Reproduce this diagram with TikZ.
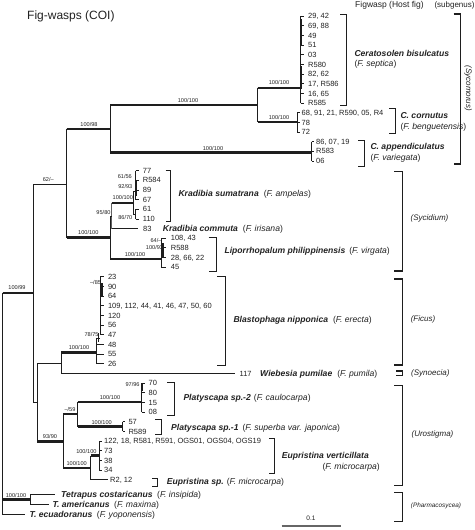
\documentclass[tikz,border=0pt]{standalone}
\usepackage{fontspec}
\setmainfont{Liberation Sans}
\definecolor{inkc}{HTML}{1E1E1E}
\definecolor{txtc}{HTML}{222222}
\newcommand{\SpN}[1]{{\bfseries\itshape #1}}
\newcommand{\HoF}[1]{(\textit{#1})}
\begin{document}
\begin{tikzpicture}[x=1pt,y=-1pt,
  br/.style={draw=inkc, line width=0.7pt},
  thk/.style={draw=inkc, line width=2.2pt},
  brk/.style={draw=inkc, line width=0.9pt},
  sgb/.style={draw=inkc, line width=1.5pt},
  tip/.style={anchor=west, inner sep=0pt, text=txtc, font=\fontsize{7.5}{9}\selectfont, text height=5.4pt, text depth=0pt},
  spn/.style={anchor=west, inner sep=0pt, text=txtc, font=\fontsize{8.6}{10}\selectfont, text height=6.2pt, text depth=0pt},
  bs/.style={inner sep=0pt, text=txtc, font=\fontsize{5.6}{6}\selectfont},
  sgl/.style={inner sep=0pt, text=txtc, font=\fontsize{8}{9}\selectfont\itshape},
  hdr/.style={anchor=west, inner sep=0pt, text=txtc, font=\fontsize{8.5}{10}\selectfont}]
\useasboundingbox (0,0) rectangle (474,530);
\fill[white] (0,0) rectangle (474,530);

% title and header
\node[anchor=west, inner sep=0pt, text=txtc, font=\fontsize{12}{14}\selectfont] (title) at (27,16) {Fig-wasps (COI)};
\node[hdr] (h1) at (355,5.8) {Figwasp (Host fig)};
\node[hdr, font=\fontsize{8}{9}\selectfont] (h2) at (434.3,5.8) {(subgenus)};

% internal nodes
\coordinate (R) at (2.7,403);
\coordinate (A) at (33.3,292.7);
\coordinate (B) at (66.7,184);
\coordinate (SYC) at (110.3,128.7);
\coordinate (CB) at (257.7,105);
\coordinate (CBI) at (300.5,87.7);
\coordinate (CCO) at (297.3,122.3);
\coordinate (CAP) at (311.7,152.5);
\coordinate (SCD) at (110,237.5);
\coordinate (KR) at (111.5,216);
\coordinate (KS) at (133.3,202.7);
\coordinate (KS1) at (135.5,191);
\coordinate (KS2) at (135.5,214);
\coordinate (LIP) at (161,259);
\coordinate (C) at (37.3,402.5);
\coordinate (D) at (61,363);
\coordinate (BLA) at (96.7,352.5);
\coordinate (B2) at (100.3,338);
\coordinate (UR) at (63.3,441.5);
\coordinate (PL) at (77.7,414.3);
\coordinate (P2) at (141.7,402);
\coordinate (P1) at (122.7,426.5);
\coordinate (EU) at (90.7,468);
\coordinate (EV) at (99,455.5);
\coordinate (TET) at (30,499.5);

% tip labels
\foreach \i/\y/\t in {1/16.0/{29, 42},2/25.7/{69, 88},3/35.3/49,4/45.0/51,5/54.6/03,6/64.3/R580,7/74.0/{82, 62},8/83.6/{17, R586},9/93.3/{16, 65},10/102.9/R585}
  \node[tip] (cb\i) at (308,\y) {\t};
\foreach \i/\y/\t in {1/112.6/{68, 91, 21, R590, 05, R4},2/122.3/78,3/131.9/72}
  \node[tip] (cc\i) at (301.5,\y) {\t};
\foreach \i/\y/\t in {1/141.6/{86, 07, 19},2/151.2/R583,3/160.9/06}
  \node[tip] (ca\i) at (316,\y) {\t};
\foreach \i/\y/\t in {1/170.6/77,2/180.2/R584,3/189.9/89,4/199.5/67,5/209.2/61,6/218.9/110}
  \node[tip] (k\i) at (142.7,\y) {\t};
\node[tip] (kc) at (143,228.5) {83};
\foreach \i/\y/\t in {1/238.2/{108, 43},2/247.8/R588,3/257.5/{28, 66, 22},4/267.2/45}
  \node[tip] (l\i) at (170.7,\y) {\t};
\foreach \i/\y/\t in {1/276.8/23,2/286.5/90,3/296.1/64,4/305.8/{109, 112, 44, 41, 46, 47, 50, 60},5/315.4/120,6/325.1/56,7/334.8/47,8/344.4/48,9/354.1/55,10/363.8/26}
  \node[tip] (bl\i) at (107.8,\y) {\t};
\node[tip] (wie) at (239.5,373.4) {117};
\foreach \i/\y/\t in {1/383.1/70,2/392.7/80,3/402.4/15,4/412.1/08}
  \node[tip] (p\i) at (148.5,\y) {\t};
\foreach \i/\y/\t in {1/421.7/57,2/431.4/R589}
  \node[tip] (q\i) at (128.3,\y) {\t};
\foreach \i/\y/\t in {1/441.0/{122, 18, R581, R591, OGS01, OGS04, OGS19},2/450.7/73,3/460.4/38,4/470.0/34}
  \node[tip] (e\i) at (104,\y) {\t};
\node[tip] (r212) at (110,479.7) {R2, 12};

% outgroup tips
\node[spn] (tcos) at (61,494) {\SpN{Tetrapus costaricanus}\hspace{4.5pt}\HoF{F. insipida}};
\node[spn] (tam) at (52.3,504.5) {\SpN{T. americanus}\hspace{4.5pt}\HoF{F. maxima}};
\node[spn] (tec) at (29.3,514.5) {\SpN{T. ecuadoranus}\hspace{4.5pt}\HoF{F. yoponensis}};

% verticals
\draw[draw=inkc, line width=1.5pt] (R |- A) -- (R |- tec.west);
\draw[br] (A |- B) -- (A |- C);
\draw[br] (B |- SYC) -- (B |- SCD);
\draw[br] (SYC |- CB) -- (SYC |- CAP);
\draw[br] (CB |- CBI) -- (CB |- CCO);
\draw[br] (CBI |- cb1.west) -- (CBI |- cb10.west);
\draw[br] (CCO |- cc1.west) -- (CCO |- cc3.west);
\draw[br] (CAP |- ca1.west) -- (CAP |- ca3.west);
\draw[br] (SCD |- KR) -- (SCD |- LIP);
\draw[draw=inkc!70, line width=1.2pt] (KR |- KS) -- (KR |- kc.west);
\draw[br] (KS |- KS1) -- (KS |- KS2);
\draw[br] (KS1 |- k1.west) -- (KS1 |- k4.west);
\draw[br] (KS2 |- k5.west) -- (KS2 |- k6.west);
\draw[br] (LIP |- l1.west) -- (LIP |- l4.west);
\draw[br] (C |- D) -- (C |- UR);
\draw[br] (D |- BLA) -- (D |- wie.west);
\draw[br] (BLA |- B2) -- (BLA |- bl10.west);
\draw[br] (B2 |- bl1.west) -- (B2 |- bl7.west);
\draw[br] (UR |- PL) -- (UR |- EU);
\draw[br] (PL |- P2) -- (PL |- P1);
\draw[br] (P2 |- p1.west) -- (P2 |- p4.west);
\draw[br] (P1 |- q1.west) -- (P1 |- q2.west);
\draw[br] (EU |- EV) -- (EU |- r212.west);
\draw[br] (EV |- e1.west) -- (EV |- e4.west);
\draw[br] (TET |- tcos.west) -- (TET |- tam.west);

% supported short segments
\draw[draw=inkc, line width=1.4pt] (301.6,19) -- (301.6,45) (301.6,66) -- (301.6,89);
\draw[draw=inkc, line width=1.4pt] (136.3,180) -- (136.3,196);
\draw[draw=inkc, line width=1.4pt] (163,243) -- (163,257);
\draw[draw=inkc, line width=1.4pt] (102,283) -- (102,297) (98.6,333) -- (98.6,342);
\draw[draw=inkc, line width=1.4pt] (142.6,383) -- (142.6,391);

% branches
\draw[thk] (R |- A) -- (A);
\draw[br] (A |- B) -- (B);
\draw[thk] (B |- SYC) -- (SYC);
\draw[thk] (SYC |- CB) -- (CB);
\draw[thk] (SYC |- CAP) -- (CAP);
\draw[thk] (CB |- CBI) -- (CBI);
\draw[thk] (CB |- CCO) -- (CCO);
\draw[thk] (B |- SCD) -- (SCD);
\draw[br] (SCD |- KR) -- (KR);
\draw[thk] (KR |- KS) -- (KS);
\draw[br] (KS |- KS1) -- (KS1);
\draw[br] (KS |- KS2) -- (KS2);
\draw[thk] (SCD |- LIP) -- (LIP);
\draw[br] (A |- C) -- (C);
\draw[br] (C |- D) -- (D);
\draw[thk] (D |- BLA) -- (BLA);
\draw[br] (BLA |- B2) -- (B2);
\draw[thk] (C |- UR) -- (UR);
\draw[thk] (UR |- PL) -- (PL);
\draw[thk] (PL |- P2) -- (P2);
\draw[thk] (PL |- P1) -- (P1);
\draw[thk] (UR |- EU) -- (EU);
\draw[thk] (EU |- EV) -- (EV);
\draw[thk] (R |- TET) -- (TET);

% tip ticks and leaf branches
\foreach \i in {1,...,10} \draw[br] (CBI |- cb\i.west) -- ([xshift=-4pt]cb\i.west);
\foreach \i in {1,...,3} \draw[br] (CCO |- cc\i.west) -- ([xshift=-2pt]cc\i.west);
\foreach \i in {1,...,3} \draw[br] (CAP |- ca\i.west) -- ([xshift=-2.5pt]ca\i.west);
\foreach \i in {1,...,4} \draw[br] (KS1 |- k\i.west) -- ([xshift=-4pt]k\i.west);
\foreach \i in {5,6} \draw[br] (KS2 |- k\i.west) -- ([xshift=-4pt]k\i.west);
\draw[br] (KR |- kc.west) -- ([xshift=-5pt]kc.west);
\foreach \i in {1,...,4} \draw[br] (LIP |- l\i.west) -- ([xshift=-4.5pt]l\i.west);
\foreach \i in {1,...,7} \draw[br] (B2 |- bl\i.west) -- ([xshift=-3.5pt]bl\i.west);
\foreach \i in {8,9,10} \draw[br] (BLA |- bl\i.west) -- ([xshift=-3.5pt]bl\i.west);
\draw[br] (D |- wie.west) -- ([xshift=-4.5pt]wie.west);
\foreach \i in {1,...,4} \draw[br] (P2 |- p\i.west) -- ([xshift=-3.5pt]p\i.west);
\foreach \i in {1,2} \draw[br] (P1 |- q\i.west) -- ([xshift=-3pt]q\i.west);
\foreach \i in {1,...,4} \draw[br] (EV |- e\i.west) -- ([xshift=-2.5pt]e\i.west);
\draw[br] (EU |- r212.west) -- ([xshift=-2.5pt]r212.west);
\draw[br] (TET |- tcos.west) -- ([xshift=-6pt]tcos.west);
\draw[br] (TET |- tam.west) -- ([xshift=-3pt]tam.west);
\draw[br] (R |- tec.west) -- ([xshift=-4.3pt]tec.west);

% bootstrap values
\node[bs] (b1) at (17,287.7) {100/99};
\node[bs] (b2) at (48.3,179.3) {62/--};
\node[bs] (b3) at (89,124.2) {100/98};
\node[bs] (b4) at (188,100) {100/100};
\node[bs] (b5) at (213,148.5) {100/100};
\node[bs] (b6) at (279,82.5) {100/100};
\node[bs] (b7) at (279,117.3) {100/100};
\node[bs] (b8) at (88.3,232.7) {100/100};
\node[bs,anchor=east] (b9) at (110.7,212.7) {95/80};
\node[bs] (b10) at (122.8,197.5) {100/100};
\node[bs,anchor=east] (b11) at (132,176) {61/56};
\node[bs,anchor=east] (b12) at (132.5,186) {92/93};
\node[bs,anchor=east] (b13) at (132.5,217.3) {86/70};
\node[bs] (b14) at (135,254.3) {100/100};
\node[bs,anchor=east] (b15) at (161.7,240) {64/--};
\node[bs,anchor=east] (b16) at (163.3,247.7) {100/93};
\node[bs,anchor=east] (b17) at (101.2,282.7) {--/85};
\node[bs,anchor=east] (b18) at (98.8,334.5) {78/75};
\node[bs] (b19) at (79,347.3) {100/100};
\node[bs,anchor=east] (b20) at (139.8,384) {97/96};
\node[bs] (b21) at (110,397.5) {100/100};
\node[bs] (b22) at (70,409.5) {--/59};
\node[bs] (b23) at (101.7,422) {100/100};
\node[bs] (b24) at (50,436.7) {93/90};
\node[bs,anchor=east] (b25) at (96.7,451.5) {100/100};
\node[bs] (b26) at (76.7,463.5) {100/100};
\node[bs] (b27) at (16,495) {100/100};

% species brackets
\foreach \x/\t/\b/\w in {346/14/105/6, 395.3/108.3/133.3/6, 364/140/166.7/6, 170.5/170/221/5, 216.7/237.3/271.7/8, 225/276.7/365/8, 174/382.3/415/7, 161/419/434.3/6, 274.3/438.3/473.3/5, 157.3/478.3/486.7/5}
  \draw[brk] ({\x-\w},\t) -- (\x,\t) -- (\x,\b) -- ({\x-\w},\b);

% species labels
\node[spn] (s1) at (354.3,53.3) {\SpN{Ceratosolen bisulcatus}};
\node[spn] (s1h) at (354.3,63) {\HoF{F. septica}};
\node[spn] (s2) at (400.3,115.5) {\SpN{C. cornutus}};
\node[spn] (s2h) at (400.3,126.3) {\HoF{F. benguetensis}};
\node[spn] (s3) at (370.3,146) {\SpN{C. appendiculatus}};
\node[spn] (s3h) at (370.3,157.3) {\HoF{F. variegata}};
\node[spn] (s4) at (178.3,193.3) {\SpN{Kradibia sumatrana}\hspace{5pt}\HoF{F. ampelas}};
\node[spn] (s5) at (162.7,228.5) {\SpN{Kradibia commuta}\hspace{5pt}\HoF{F. irisana}};
\node[spn] (s6) at (224.3,250.7) {\SpN{Liporrhopalum philippinensis}\hspace{4pt}\HoF{F. virgata}};
\node[spn] (s7) at (233.3,319.3) {\SpN{Blastophaga nipponica}\hspace{5pt}\HoF{F. erecta}};
\node[spn] (s8) at (260,373.4) {\SpN{Wiebesia pumilae}\hspace{5pt}\HoF{F. pumila}};
\node[spn] (s9) at (183.3,397.3) {\SpN{Platyscapa sp.-2}\hspace{3pt}\HoF{F. caulocarpa}};
\node[spn] (s10) at (171,427) {\SpN{Platyscapa sp.-1}\hspace{4pt}\HoF{F. superba var. japonica}};
\node[spn] (s11) at (281.7,455) {\SpN{Eupristina verticillata}};
\node[spn, anchor=east] (s11h) at (380,466.7) {\HoF{F. microcarpa}};
\node[spn] (s12) at (166.7,481) {\SpN{Eupristina sp.}\hspace{3pt}\HoF{F. microcarpa}};

% subgenus brackets
\foreach \x/\t/\b/\w in {460.7/14/164/7, 402.3/171.7/271/8, 402.3/279/365/8, 402.3/371/375.7/6, 402.3/385.7/485.7/8, 402.3/492.7/521.7/8}
  \draw[sgb] ({\x-\w},\t) -- (\x,\t) -- (\x,\b) -- ({\x-\w},\b);

% subgenus labels
\node[sgl, rotate=-90] (g1) at (468.3,88.3) {(Sycomorus)};
\node[sgl] (g2) at (429.5,218.3) {(Sycidium)};
\node[sgl] (g3) at (423,319.3) {(Ficus)};
\node[sgl] (g4) at (430.3,373.5) {(Synoecia)};
\node[sgl] (g5) at (432.5,434) {(Urostigma)};
\node[sgl, font=\fontsize{6.4}{7}\selectfont\itshape] (g6) at (436,505.7) {(Pharmacosycea)};

% scale bar
\coordinate (sb1) at (281.7,526);
\coordinate (sb2) at (340.7,526);
\draw[draw=black!60, line width=1.6pt] (sb1) -- (sb2);
\node[bs, font=\fontsize{6.5}{7}\selectfont] (sbl) at (311,518.5) {0.1};
\end{tikzpicture}
\end{document}
